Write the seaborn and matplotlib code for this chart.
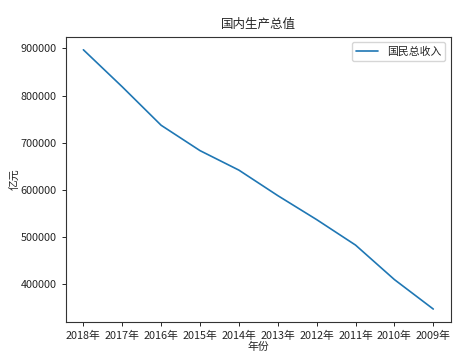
import matplotlib
matplotlib.use("Agg")
import matplotlib.pyplot as plt
import seaborn as sns
import pandas as pd

years = ["2018年", "2017年", "2016年", "2015年", "2014年", "2013年", "2012年", "2011年", "2010年", "2009年"]
gni = [896915, 818461, 737074, 683391, 642097, 588141, 537329, 483393, 410354, 347934]
series_name = "国民总收入"

sns.set_style("ticks")
plt.rcParams["font.family"] = ["Noto Sans CJK SC", "DejaVu Sans"]
plt.rcParams["font.size"] = 7.8
plt.rcParams["axes.unicode_minus"] = False

df = pd.DataFrame({"年份": years, "亿元": gni})

fig, ax = plt.subplots(figsize=(4.74, 3.61), dpi=100)
fig.subplots_adjust(left=0.139, right=0.951, top=0.898, bottom=0.108)
sns.lineplot(data=df, x="年份", y="亿元", ax=ax, color="#1f77b4", label=series_name, sort=False, linewidth=1.2)
ax.set_title("国内生产总值", fontsize=9)
ax.set_xlabel("年份", fontsize=7.8, labelpad=0.5)
ax.set_ylabel("亿元", fontsize=7.8, labelpad=1)
ax.set_yticks([400000, 500000, 600000, 700000, 800000, 900000])
ax.tick_params(labelsize=7.8, length=3, width=0.7)
for s in ax.spines.values():
    s.set_color("#333333")
    s.set_linewidth(0.8)
ax.legend(loc="upper right", frameon=True, fontsize=7.8, fancybox=True)
fig.savefig("out.png", dpi=100)
